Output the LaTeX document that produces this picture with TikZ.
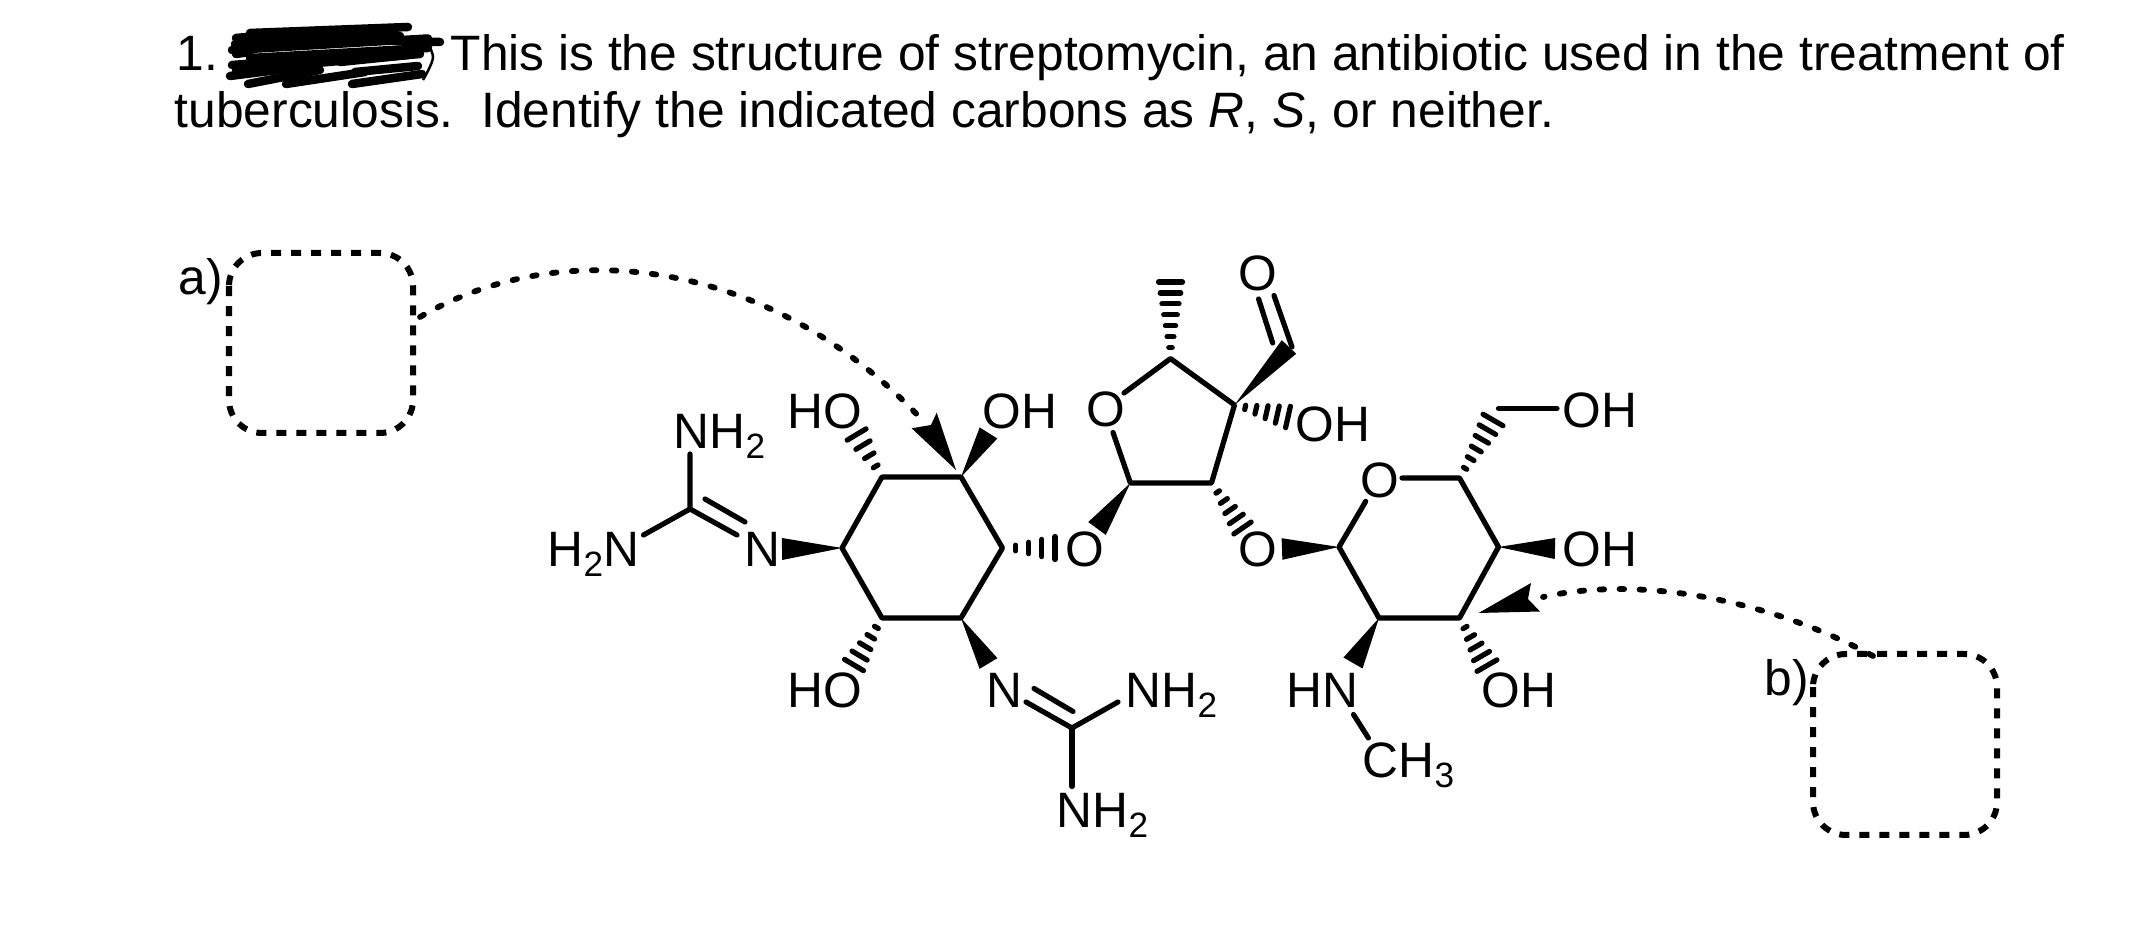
\documentclass[tikz,border=0pt]{standalone}
\usepackage{fontspec}
\setmainfont{Liberation Sans}
\usetikzlibrary{calc}

\newcommand{\subtwo}[1]{\raisebox{-2.6pt}{\fontsize{10pt}{10pt}\selectfont #1}}
\newcommand{\hashbond}[4]{
\foreach \k in {1,...,#4}
\draw [hashline] ($(#1)!\k/#4!(#2)!{\k/#4*#3*0.01cm}!90:(#1)$) -- ($(#1)!\k/#4!(#2)!{\k/#4*#3*0.01cm}!-90:(#1)$);
}
\newcommand{\wedgebond}[3]{
\fill (#1) -- ($(#2)!{#3*0.01cm}!90:(#1)$) -- ($(#2)!{#3*0.01cm}!-90:(#1)$) -- cycle;
}

\begin{document}
\begin{tikzpicture}[x=0.01cm,y=-0.01cm,
bond/.style={line width=0.052cm,line cap=round,line join=round},
hashline/.style={line width=0.052cm,line cap=round},
atom/.style={anchor=base west,inner sep=0pt,font=\fontsize{14.14pt}{16pt}\selectfont},
answerbox/.style={line width=0.06cm,rounded corners=0.33cm,dash pattern=on 0.1cm off 0.1cm},
dotline/.style={line width=0.058cm,line cap=round,dash pattern=on 0.045cm off 0.155cm},
scribble/.style={line width=0.085cm,line cap=round,line join=round}]

\useasboundingbox (0,0) rectangle (2147,952);

% question
\node [atom] (num) at (176,71) {1.};
\node [atom] (qone) at (450,71) {This is the structure of streptomycin, an antibiotic used in the treatment of};
\node [atom] (qtwo) at (174,128) {tuberculosis.\ \ Identify the indicated carbons as \textit{R}, \textit{S}, or neither.};

\foreach \xa/\ya/\xb/\yb in {236/38/280/34,250/33/408/27,280/37/395/31,235/44/400/36,395/41/440/42,
232/50/428/38.5,236/54/250/52,250/58/428/48,232/65/340/57,236/70/420/54,340/62/408/55,
230/76/310/66,355/72/418/66,248/84/320/70,286/84/365/72,352/84/422/74}
\draw [scribble] (\xa,\ya) -- (\xb,\yb);
\draw [line width=0.025cm] plot [smooth] coordinates {(423,35) (433,57) (423,80)};

% boxes
\node [atom] (alabel) at (178,295) {a)};
\node [atom] (blabel) at (1764,696) {b)};
\draw [answerbox] (229,253) rectangle (413,433);
\draw [answerbox] (1813,654) rectangle (1997,835);

% first ring
\coordinate (a1) at (882,477);
\coordinate (a2) at (961,477);
\coordinate (a3) at (1002.5,548);
\coordinate (a4) at (961,618);
\coordinate (a5) at (882,618);
\coordinate (a6) at (842,548);
\draw [bond] (a1) -- (a2) -- (a3) -- (a4) -- (a5) -- (a6) -- cycle;

\node [atom] (nhtwoa) at (673,449) {NH\subtwo{2}};
\node [atom] (hntwoa) at (547,567) {H\subtwo{2}N};
\node [atom] (na) at (744,567) {N};
\node [atom] (hoa) at (787,429) {HO};
\node [atom] (oha) at (982,429) {OH};
\node [atom] (hob) at (787,708) {HO};
\node [atom] (nb) at (986,708) {N};
\node [atom] (oa) at (1065,567) {O};

\coordinate (g1) at (690,509);
\coordinate (g1up) at (690,454);
\coordinate (g1left) at (643.5,535);
\coordinate (g1n) at (737,535);
\coordinate (g1da) at (705,499);
\coordinate (g1db) at (745,522);
\draw [bond] (g1up) -- (g1) -- (g1left);
\draw [bond] (g1) -- (g1n);
\draw [bond] (g1da) -- (g1db);

\coordinate (w1) at (782,549);
\coordinate (w2) at (988.5,433);
\coordinate (w3) at (988.5,663.5);
\wedgebond{a6}{w1}{11}
\wedgebond{a2}{w2}{10.4}
\wedgebond{a4}{w3}{10.4}

\coordinate (h1) at (856.6,434.5);
\coordinate (h2) at (854,665);
\coordinate (h3) at (1055,548);
\hashbond{a1}{h1}{11}{4}
\hashbond{a5}{h2}{11}{5}
\hashbond{a3}{h3}{11.5}{4}

% second guanidine
\node [atom] (nhtwob) at (1125,708) {NH\subtwo{2}};
\node [atom] (nhtwoc) at (1056,828) {NH\subtwo{2}};
\coordinate (g2) at (1072,728);
\coordinate (g2n) at (1026,702);
\coordinate (g2right) at (1118,702);
\coordinate (g2down) at (1072,786.5);
\coordinate (g2da) at (1034,688.5);
\coordinate (g2db) at (1073,711.5);
\draw [bond] (g2n) -- (g2) -- (g2right);
\draw [bond] (g2) -- (g2down);
\draw [bond] (g2da) -- (g2db);

% five ring
\coordinate (f1) at (1170.5,358.6);
\coordinate (f2) at (1234.5,405);
\coordinate (f3) at (1211.5,483);
\coordinate (f4) at (1130.4,483);
\coordinate (fo1) at (1124,393);
\coordinate (fo2) at (1113,432.5);
\node [atom] (fo) at (1086,427) {O};
\draw [bond] (fo1) -- (f1) -- (f2) -- (f3) -- (f4) -- (fo2);

\node [atom] (otop) at (1238,291) {O};
\node [atom] (ohf) at (1295,442) {OH};
\node [atom] (ob) at (1238,567) {O};
\coordinate (cho) at (1292,347);
\coordinate (chotop) at (1274,295.5);
\coordinate (chda) at (1272.7,343);
\coordinate (chdb) at (1258.6,299);
\draw [bond] (cho) -- (chotop);
\draw [bond] (chda) -- (chdb);

\coordinate (w4) at (1289,347);
\coordinate (w5) at (1097,528.5);
\wedgebond{f2}{w4}{9.9}
\wedgebond{f4}{w5}{10.9}

\coordinate (h4) at (1170.5,282);
\coordinate (h5) at (1288,417);
\coordinate (h6) at (1242.5,528);
\hashbond{f1}{h4}{12}{7}
\hashbond{f2}{h5}{11}{5}
\hashbond{f3}{h6}{10.5}{5}

% last ring
\coordinate (c1) at (1459.5,478);
\coordinate (c2) at (1498.5,547);
\coordinate (c3) at (1459.5,618);
\coordinate (c4) at (1379,618);
\coordinate (c5) at (1339,547);
\coordinate (co1) at (1402,478);
\coordinate (co2) at (1365.7,501.4);
\node [atom] (co) at (1360,498) {O};
\draw [bond] (co1) -- (c1) -- (c2) -- (c3) -- (c4) -- (c5) -- (co2);

\node [atom] (ohc) at (1562,428) {OH};
\node [atom] (ohd) at (1562,567) {OH};
\node [atom] (ohe) at (1481,708) {OH};
\node [atom] (hn) at (1286,708) {HN};
\node [atom] (chthree) at (1362,778) {CH\subtwo{3}};
\coordinate (meth) at (1498.5,408.4);
\coordinate (methoh) at (1557,408.4);
\coordinate (hnend) at (1353.5,714.5);
\coordinate (chend) at (1368.4,738);
\draw [bond] (meth) -- (methoh);
\draw [bond] (hnend) -- (chend);

\coordinate (w6) at (1282,549);
\coordinate (w7) at (1555,548.5);
\coordinate (w8) at (1353,663);
\wedgebond{c5}{w6}{10.8}
\wedgebond{c2}{w7}{10.5}
\wedgebond{c4}{w8}{11}

\coordinate (h7) at (1493,420);
\coordinate (h8) at (1487,665.6);
\hashbond{c1}{h7}{11.5}{6}
\hashbond{c3}{h8}{11.5}{5}

% pointers
\coordinate (pa) at (420,317);
\coordinate (paend) at (925,423);
\coordinate (pb) at (1873,656);
\coordinate (pbend) at (1543,597);
\draw [dotline] (pa) .. controls (560,235) and (770,255) .. (paend);
\draw [dotline] (pb) .. controls (1770,600) and (1640,575) .. (pbend);
\fill (956,470) -- (936.7,412.7) -- (931,425) -- (911.7,428.3) -- cycle;
\fill (1478.6,613) -- (1531,583) -- (1528,599) -- (1540,611.5) -- cycle;

\end{tikzpicture}
\end{document}
